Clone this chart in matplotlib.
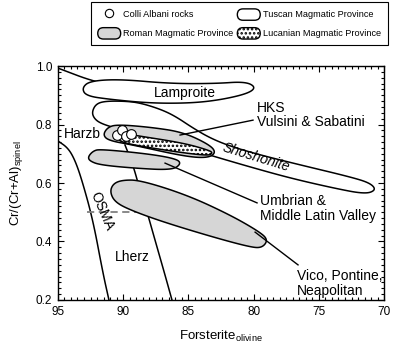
import numpy as np
import matplotlib
matplotlib.use("Agg")
import matplotlib.pyplot as plt
from matplotlib.patches import Polygon, Patch, FancyBboxPatch
from matplotlib.legend_handler import HandlerPatch
from matplotlib.lines import Line2D
from matplotlib.ticker import MultipleLocator

plt.rcParams["font.family"] = ["Liberation Sans", "DejaVu Sans"]
plt.rcParams["mathtext.fontset"] = "custom"
plt.rcParams["mathtext.rm"] = "Liberation Sans"
plt.rcParams["hatch.linewidth"] = 1.2

# field outlines (Fo olivine, Cr# spinel)
lamproite_fo = [93.16, 92.55, 90.25, 86.41, 82.96, 80.66, 79.82, 80.43, 82.58, 84.88, 87.94, 91.01, 92.85]
lamproite_cr = [0.925, 0.949, 0.955, 0.940, 0.940, 0.947, 0.928, 0.906, 0.884, 0.873, 0.873, 0.886, 0.898]

tuscan_fo = [92.39, 92.09, 91.40, 89.86, 88.71, 87.18, 86.03, 84.65, 83.34, 81.81, 79.51, 76.44,
             72.61, 71.07, 70.61, 71.46, 73.91, 77.21, 80.28, 83.11, 85.64, 88.71, 90.63, 91.78, 92.24]
tuscan_cr = [0.843, 0.870, 0.880, 0.880, 0.874, 0.853, 0.829, 0.788, 0.754, 0.726, 0.696, 0.662,
             0.621, 0.600, 0.576, 0.562, 0.583, 0.617, 0.655, 0.692, 0.726, 0.764, 0.788, 0.805, 0.822]

hks_fo = [91.55, 91.20, 90.48, 87.94, 85.41, 83.34, 82.88, 83.57, 85.41, 89.25, 91.10]
hks_cr = [0.764, 0.790, 0.800, 0.791, 0.774, 0.730, 0.703, 0.685, 0.692, 0.730, 0.745]

lucanian_fo = [90.40, 90.09, 89.25, 85.41, 83.50, 83.11, 83.57, 87.94, 90.25]
lucanian_cr = [0.757, 0.771, 0.764, 0.737, 0.713, 0.703, 0.692, 0.720, 0.740]

umbrian_fo = [92.70, 92.32, 91.78, 87.94, 85.87, 85.57, 86.26, 89.25, 91.78, 92.55]
umbrian_cr = [0.689, 0.709, 0.716, 0.699, 0.682, 0.665, 0.644, 0.651, 0.662, 0.675]

vico_fo = [91.01, 90.78, 90.09, 88.71, 85.11, 81.81, 79.51, 78.90, 79.36, 80.28, 83.11, 86.95, 89.48, 90.63]
vico_cr = [0.569, 0.597, 0.610, 0.610, 0.559, 0.491, 0.432, 0.405, 0.378, 0.381, 0.415, 0.467, 0.508, 0.535]

# OSMA boundaries
osma_top_fo = [95.0, 92.16, 89.5]
osma_top_cr = [0.993, 0.945, 0.925]
osma_left_fo = [95.0, 94.23, 93.70, 93.16, 92.32, 91.55, 91.09]
osma_left_cr = [0.744, 0.720, 0.679, 0.610, 0.474, 0.292, 0.200]
osma_right_fo = [89.86, 89.25, 88.71, 88.17, 87.56, 86.79, 86.26]
osma_right_cr = [0.730, 0.662, 0.576, 0.501, 0.405, 0.285, 0.200]
dashed_fo = [92.78, 88.17]
dashed_cr = [0.5, 0.5]

# Colli Albani rocks
colli_fo = [90.48, 90.09, 89.79, 89.40]
colli_cr = [0.764, 0.781, 0.761, 0.768]

GRAY = "#d6d6d6"


def chaikin(x, y, passes=4, closed=True):
    pts = np.column_stack([x, y]).astype(float)
    for _ in range(passes):
        if closed:
            nxt = np.roll(pts, -1, axis=0)
            q = 0.75 * pts + 0.25 * nxt
            r = 0.25 * pts + 0.75 * nxt
            pts = np.empty((2 * len(q), 2))
            pts[0::2] = q
            pts[1::2] = r
        else:
            a, b = pts[:-1], pts[1:]
            q = 0.75 * a + 0.25 * b
            r = 0.25 * a + 0.75 * b
            mid = np.empty((2 * len(q), 2))
            mid[0::2] = q
            mid[1::2] = r
            pts = np.vstack([pts[:1], mid, pts[-1:]])
    return pts


def field(ax, fo, cr, face, z, hatch=None):
    pts = chaikin(fo, cr)
    ax.add_patch(Polygon(pts, closed=True, facecolor=face, edgecolor="black",
                         linewidth=1.1, hatch=hatch, zorder=z))


def blob(legend, orig_handle, xdescent, ydescent, width, height, fontsize):
    return FancyBboxPatch((-xdescent, -ydescent - 1), width, height + 1,
                          boxstyle=f"round,pad=0,rounding_size={(height + 1) / 2}")


fig = plt.figure(figsize=(3.94, 3.44), dpi=100)
ax = fig.add_axes([0.147, 0.128, 0.828, 0.68])

for fo, cr in [(osma_top_fo, osma_top_cr), (osma_left_fo, osma_left_cr), (osma_right_fo, osma_right_cr)]:
    p = chaikin(fo, cr, passes=3, closed=False)
    ax.plot(p[:, 0], p[:, 1], color="black", lw=1.1, zorder=1)
ax.plot(dashed_fo, dashed_cr, color="#808080", lw=1.3, ls=(0, (4, 2.5)), zorder=1)

field(ax, tuscan_fo, tuscan_cr, "white", 2)
field(ax, lamproite_fo, lamproite_cr, "white", 2)
field(ax, umbrian_fo, umbrian_cr, GRAY, 3)
field(ax, vico_fo, vico_cr, GRAY, 3)
field(ax, hks_fo, hks_cr, GRAY, 3)
field(ax, lucanian_fo, lucanian_cr, "white", 4, hatch="....")
ax.plot(colli_fo, colli_cr, "o", ms=7, mfc="white", mec="black", mew=0.8, zorder=6)

# leaders
ax.plot([80.05, 85.64], [0.815, 0.764], color="black", lw=1.0, zorder=7)
ax.plot([79.74, 86.79], [0.532, 0.668], color="black", lw=1.0, zorder=7)
ax.plot([76.60, 79.89], [0.320, 0.432], color="black", lw=1.0, zorder=7)

fs = 10
ax.text(85.26, 0.908, "Lamproite", fontsize=fs, ha="center", va="center", zorder=8)
ax.text(91.70, 0.767, "Harzb", fontsize=fs, ha="right", va="center", zorder=8)
ax.text(79.74, 0.856, "HKS", fontsize=fs, ha="left", va="center", zorder=8)
ax.text(79.74, 0.809, "Vulsini & Sabatini", fontsize=fs, ha="left", va="center", zorder=8)
ax.text(79.82, 0.689, "Shoshonite", fontsize=fs, style="italic", rotation=-17,
        ha="center", va="center", rotation_mode="anchor", zorder=8)
ax.text(79.51, 0.538, "Umbrian &", fontsize=fs, ha="left", va="center", zorder=8)
ax.text(79.51, 0.487, "Middle Latin Valley", fontsize=fs, ha="left", va="center", zorder=8)
ax.text(76.67, 0.282, "Vico, Pontine,", fontsize=fs, ha="left", va="center", zorder=8)
ax.text(76.67, 0.231, "Neapolitan", fontsize=fs, ha="left", va="center", zorder=8)
ax.text(91.63, 0.504, "OSMA", fontsize=fs, rotation=-67, ha="center", va="center",
        rotation_mode="anchor", zorder=8)
ax.text(89.33, 0.347, "Lherz", fontsize=fs, ha="center", va="center", zorder=8)

ax.set_xlim(95, 70)
ax.set_ylim(0.2, 1.0)
ax.xaxis.set_minor_locator(MultipleLocator(0.5))
ax.yaxis.set_minor_locator(MultipleLocator(0.02))
ax.set_xticks([95, 90, 85, 80, 75, 70])
ax.set_xticklabels(["95", "90", "85", "80", "75", "70"])
ax.set_yticks([0.2, 0.4, 0.6, 0.8, 1.0])
ax.set_yticklabels(["0.2", "0.4", "0.6", "0.8", "1.0"])
ax.tick_params(which="both", direction="in", top=True, right=True, labelsize=8.5, width=0.8)
ax.tick_params(which="major", length=4, pad=4)
ax.tick_params(which="minor", length=2)
for s in ax.spines.values():
    s.set_linewidth(1.0)
ax.set_xlabel(r"Forsterite$_{\mathrm{olivine}}$", fontsize=9.5, labelpad=8)
ax.set_ylabel(r"Cr/(Cr+Al)$_{\mathrm{spinel}}$", fontsize=9.5, labelpad=8)

handles = [
    Line2D([], [], marker="o", ls="", ms=6, mfc="white", mec="black", mew=0.8),
    Patch(facecolor=GRAY, edgecolor="black", linewidth=1.0),
    Patch(facecolor="white", edgecolor="black", linewidth=1.0),
    Patch(facecolor="white", edgecolor="black", linewidth=1.0, hatch="...."),
]
labels = ["Colli Albani rocks", "Roman Magmatic Province",
          "Tuscan Magmatic Province", "Lucanian Magmatic Province"]
leg = fig.legend(handles, labels, ncol=2, loc="upper right",
                 bbox_to_anchor=(388 / 394, 1 - 2 / 344), borderaxespad=0,
                 fontsize=6.6, handlelength=2.5, handleheight=1.3, handletextpad=0.3,
                 columnspacing=0.4, borderpad=0.75, labelspacing=0.95,
                 fancybox=False, edgecolor="black", framealpha=1,
                 handler_map={Patch: HandlerPatch(patch_func=blob)})
leg.get_frame().set_linewidth(0.8)

fig.savefig("out.png", dpi=100)
